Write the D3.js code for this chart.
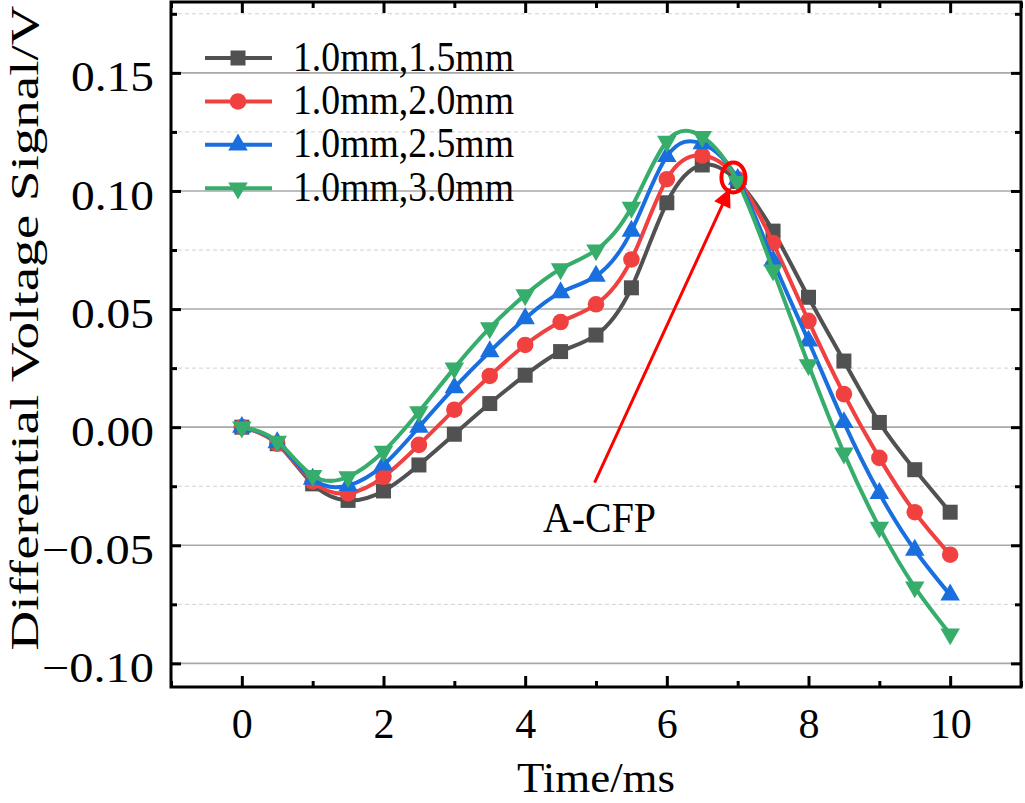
<!DOCTYPE html>
<html>
<head>
<meta charset="utf-8">
<script src="https://cdn.jsdelivr.net/npm/d3@7"></script>
<style>
  html, body { margin: 0; padding: 0; background: #fff; }
  text { font-family: "Liberation Serif", "DejaVu Serif", serif; fill: #000; }
</style>
</head>
<body>
<svg class="main-svg" width="1025" height="803"></svg>
<script>
'use strict'

// time in ms, one point every 0.5 ms
const times = [0, 0.5, 1, 1.5, 2, 2.5, 3, 3.5, 4, 4.5, 5, 5.5, 6, 6.5, 7, 7.5, 8, 8.5, 9, 9.5, 10]

const seriesNames = ['1.0mm,1.5mm', '1.0mm,2.0mm', '1.0mm,2.5mm', '1.0mm,3.0mm']

const v15 = [0, -0.007, -0.024, -0.031, -0.027, -0.016, -0.003, 0.010, 0.022, 0.032, 0.039, 0.059, 0.095, 0.111, 0.104, 0.083, 0.055, 0.028, 0.002, -0.018, -0.036]
const v20 = [0, -0.007, -0.023, -0.028, -0.021, -0.0075, 0.0074, 0.0217, 0.0348, 0.0445, 0.052, 0.071, 0.105, 0.115, 0.105, 0.078, 0.045, 0.014, -0.013, -0.036, -0.054]
const v25 = [0, -0.0065, -0.022, -0.0247, -0.016, 0.0, 0.0167, 0.032, 0.046, 0.057, 0.064, 0.083, 0.1146, 0.120, 0.105, 0.0705, 0.0365, 0.002, -0.028, -0.052, -0.071]
const v30 = [0, -0.006, -0.0205, -0.021, -0.0103, 0.0065, 0.025, 0.042, 0.056, 0.067, 0.075, 0.093, 0.121, 0.123, 0.104, 0.0665, 0.0264, -0.011, -0.0424, -0.0677, -0.0876]

const xTicks = [0, 2, 4, 6, 8, 10]
const yTicks = [-0.10, -0.05, 0.00, 0.05, 0.10, 0.15]

const colors = ['#515151', '#F14040', '#1A6FDF', '#37AD6B']
const symbols = ['square', 'circle', 'up', 'down']

const series = seriesNames.map((name, i) => ({
  name: name,
  values: [v15, v20, v25, v30][i],
  color: colors[i],
  symbol: symbols[i]
}))

const svg = d3.select('.main-svg')
const plot = { left: 171, right: 1021, top: 2, bottom: 687 }

const x = d3.scaleLinear().domain([-1, 11]).range([plot.left, plot.right])
const y = d3.scaleLinear().domain([-0.11, 0.18]).range([plot.bottom, plot.top])

const FONT = 42

const xMinor = d3.range(-1, 11.5, 1).filter(d => d % 2 !== 0)
const yMinor = d3.range(-0.075, 0.2, 0.05).map(d => +d.toFixed(3))

// grid lines (major solid, minor dashed)
const gridG = svg.append('g')
gridG.selectAll('.minor').data(yMinor)
  .join('line')
  .attr('x1', plot.left).attr('x2', plot.right)
  .attr('y1', d => y(d)).attr('y2', d => y(d))
  .attr('stroke', '#d0d0d0').attr('stroke-width', 1).attr('stroke-dasharray', '4,3')
gridG.selectAll('.major').data(yTicks)
  .join('line')
  .attr('x1', plot.left).attr('x2', plot.right)
  .attr('y1', d => y(d)).attr('y2', d => y(d))
  .attr('stroke', '#a8a8a8').attr('stroke-width', 1.6)

// axes: ticks point inward on all four sides
function styleAxis(g) {
  g.select('.domain').remove()
  g.selectAll('line').attr('stroke', '#000').attr('stroke-width', 3)
  g.selectAll('text').attr('font-size', FONT)
}

svg.append('g').attr('transform', `translate(0,${plot.bottom})`)
  .call(d3.axisBottom(x).tickValues(xTicks).tickSize(-11).tickPadding(21).tickFormat(d3.format('d')))
  .call(styleAxis)
  .call(g => g.selectAll('text').attr('dy', '0.71em'))
svg.append('g').attr('transform', `translate(0,${plot.bottom})`)
  .call(d3.axisBottom(x).tickValues(xMinor).tickSize(-6).tickFormat(''))
  .call(styleAxis)
svg.append('g').attr('transform', `translate(0,${plot.top})`)
  .call(d3.axisTop(x).tickValues(xTicks).tickSize(-11).tickFormat(''))
  .call(styleAxis)
svg.append('g').attr('transform', `translate(0,${plot.top})`)
  .call(d3.axisTop(x).tickValues(xMinor).tickSize(-6).tickFormat(''))
  .call(styleAxis)

svg.append('g').attr('transform', `translate(${plot.left},0)`)
  .call(d3.axisLeft(y).tickValues(yTicks).tickSize(-10).tickPadding(17).tickFormat(d3.format('.2f')))
  .call(styleAxis)
  .call(g => g.selectAll('text')
    .text(d => d3.format('.2f')(d).replace('-', '\u2212'))
    .attr('dy', '0.43em')
    .attr('textLength', d => d < 0 ? 112 : 83)
    .attr('lengthAdjust', 'spacingAndGlyphs'))
svg.append('g').attr('transform', `translate(${plot.left},0)`)
  .call(d3.axisLeft(y).tickValues(yMinor).tickSize(-6).tickFormat(''))
  .call(styleAxis)
svg.append('g').attr('transform', `translate(${plot.right},0)`)
  .call(d3.axisRight(y).tickValues(yTicks).tickSize(-10).tickFormat(''))
  .call(styleAxis)
svg.append('g').attr('transform', `translate(${plot.right},0)`)
  .call(d3.axisRight(y).tickValues(yMinor).tickSize(-6).tickFormat(''))
  .call(styleAxis)

// frame
svg.append('rect')
  .attr('x', plot.left).attr('y', plot.top)
  .attr('width', plot.right - plot.left).attr('height', plot.bottom - plot.top)
  .attr('fill', 'none').attr('stroke', '#000').attr('stroke-width', 3)

// markers
function symbolPath(kind) {
  if (kind === 'square') return d3.symbol(d3.symbolSquare, 225)()
  if (kind === 'circle') return d3.symbol(d3.symbolCircle, 215)()
  return d3.symbol(d3.symbolTriangle, 165)()
}
function symbolTransform(kind, px, py) {
  return kind === 'down' ? `translate(${px},${py}) rotate(180)` : `translate(${px},${py})`
}

const line = d3.line()
  .x((d, i) => x(times[i]))
  .y(d => y(d))
  .curve(d3.curveNatural)

const seriesG = svg.append('g')
series.forEach(s => {
  const g = seriesG.append('g')
  g.append('path')
    .attr('d', line(s.values))
    .attr('fill', 'none')
    .attr('stroke', s.color)
    .attr('stroke-width', 4)
  g.selectAll('path.mark').data(s.values)
    .join('path')
    .attr('class', 'mark')
    .attr('d', symbolPath(s.symbol))
    .attr('transform', (d, i) => symbolTransform(s.symbol, x(times[i]), y(d)))
    .attr('fill', s.color)
})

// annotation: crossing point
svg.append('defs').append('marker')
  .attr('id', 'arrow')
  .attr('viewBox', '0 0 10 10')
  .attr('refX', 10).attr('refY', 5)
  .attr('markerWidth', 8).attr('markerHeight', 6)
  .attr('markerUnits', 'strokeWidth')
  .attr('orient', 'auto')
  .append('path').attr('d', 'M0,0 L10,5 L0,10 Z').attr('fill', '#ff0000')

svg.append('line')
  .attr('x1', x(4.98)).attr('y1', y(-0.0235))
  .attr('x2', x(6.89)).attr('y2', y(0.1010))
  .attr('stroke', '#ff0000').attr('stroke-width', 3)
  .attr('marker-end', 'url(#arrow)')

svg.append('ellipse')
  .attr('cx', x(6.94)).attr('cy', y(0.1057))
  .attr('rx', 12).attr('ry', 15)
  .attr('fill', 'none').attr('stroke', '#ff0000').attr('stroke-width', 4)

svg.append('text')
  .attr('x', x(5.05)).attr('y', y(-0.0445))
  .attr('text-anchor', 'middle')
  .attr('font-size', FONT)
  .attr('textLength', 113).attr('lengthAdjust', 'spacingAndGlyphs')
  .text('A-CFP')

// legend
const legend = svg.append('g')
series.forEach((s, i) => {
  const ly = 58 + i * 43.4
  legend.append('line')
    .attr('x1', 205).attr('x2', 272).attr('y1', ly).attr('y2', ly)
    .attr('stroke', s.color).attr('stroke-width', 4)
  legend.append('path')
    .attr('d', symbolPath(s.symbol))
    .attr('transform', symbolTransform(s.symbol, 238, ly))
    .attr('fill', s.color)
  legend.append('text')
    .attr('x', 293).attr('y', ly + 12.5)
    .attr('font-size', FONT)
    .attr('textLength', 221).attr('lengthAdjust', 'spacingAndGlyphs')
    .text(s.name)
})

// axis titles
svg.append('text')
  .attr('x', (plot.left + plot.right) / 2).attr('y', 792)
  .attr('text-anchor', 'middle')
  .attr('font-size', FONT)
  .attr('textLength', 158).attr('lengthAdjust', 'spacingAndGlyphs')
  .text('Time/ms')

svg.append('text')
  .attr('transform', 'translate(38,328) rotate(-90)')
  .attr('text-anchor', 'middle')
  .attr('font-size', 41)
  .attr('textLength', 645).attr('lengthAdjust', 'spacingAndGlyphs')
  .text('Differential Voltage Signal/V')
</script>
</body>
</html>
